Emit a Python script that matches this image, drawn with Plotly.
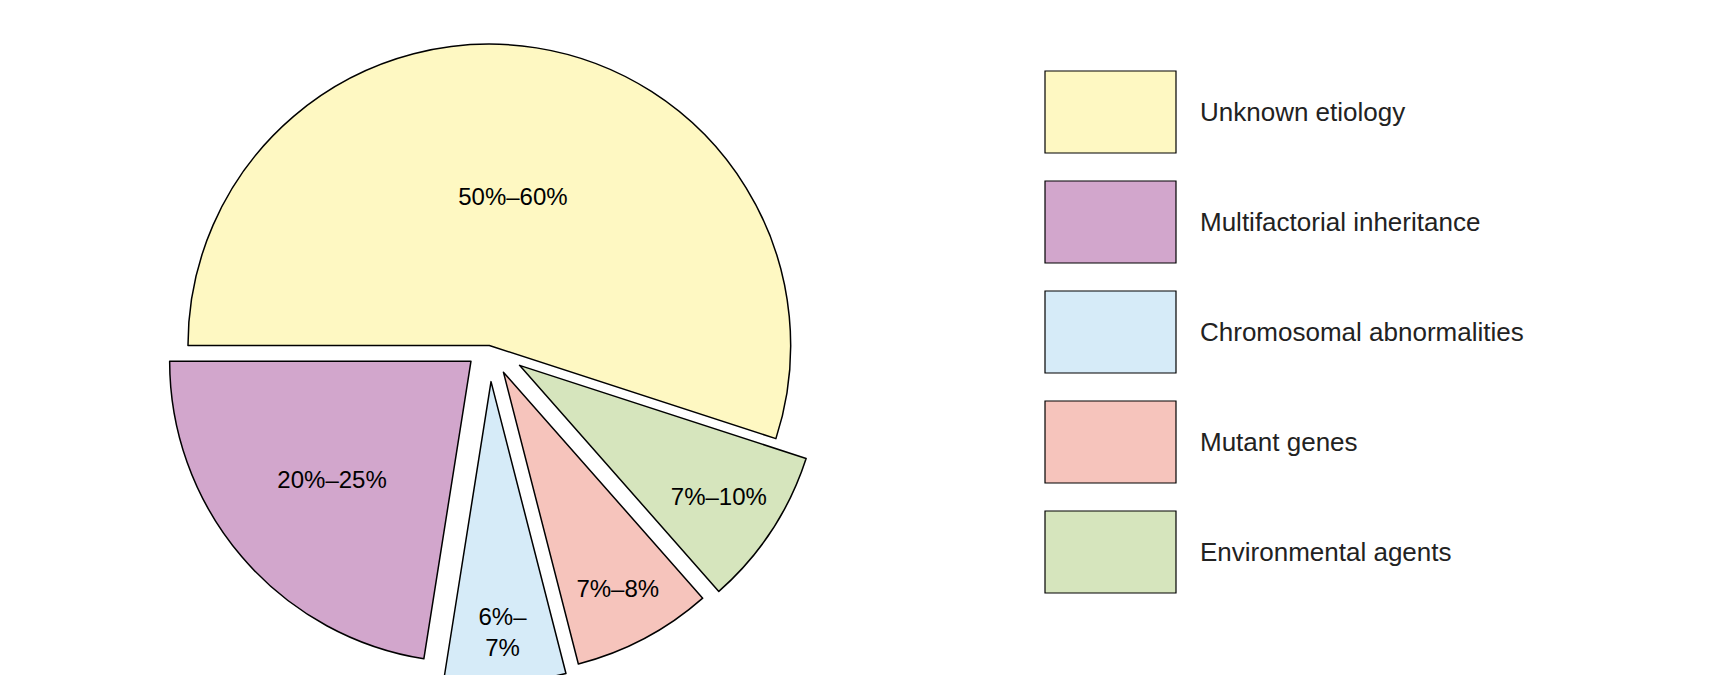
import plotly.graph_objects as go

labels = ["Unknown etiology", "Multifactorial inheritance", "Chromosomal abnormalities", "Mutant genes", "Environmental agents"]
values = [55, 22.5, 6.5, 7.5, 8.5]
texts = ["50%–60%", "20%–25%", "6%–<br>7%", "7%–8%", "7%–10%"]
colors = ["#FEF8C2", "#D2A6CC", "#D6EBF8", "#F6C4BC", "#D6E5BD"]
pulls = [0, 0.08, 0.12, 0.1, 0.12]

fig = go.Figure(go.Pie(
    labels=labels, values=values, text=texts, textinfo="text",
    textposition="inside", insidetextorientation="horizontal",
    sort=False, direction="counterclockwise", rotation=270,
    pull=pulls, marker=dict(colors=colors, line=dict(color="black", width=1.5)),
    textfont=dict(family="Liberation Sans, Arial", size=24, color="black"),
    domain=dict(x=[0.0, 0.56], y=[0.0, 1.0]), showlegend=False, hoverinfo="label"))

W, H = 1719, 675
box_x0, box_x1 = 1037, 1168
tops = [63, 173, 283, 393, 503]
for lab, col, t in zip(labels, colors, tops):
    fig.add_shape(type="rect", xref="paper", yref="paper",
                  x0=box_x0 / W, x1=box_x1 / W, y0=1 - (t + 82) / H, y1=1 - t / H,
                  fillcolor=col, line=dict(color="black", width=1.2))
    fig.add_annotation(xref="paper", yref="paper", x=1190 / W, y=1 - (t + 41) / H,
                       text=lab, showarrow=False, xanchor="left", yanchor="middle",
                       font=dict(family="Liberation Sans, Arial", size=26, color="#222"))

fig.update_layout(width=W, height=H, margin=dict(l=0, r=0, t=0, b=0),
                  paper_bgcolor="white", plot_bgcolor="white")
fig.write_html("out.html")
